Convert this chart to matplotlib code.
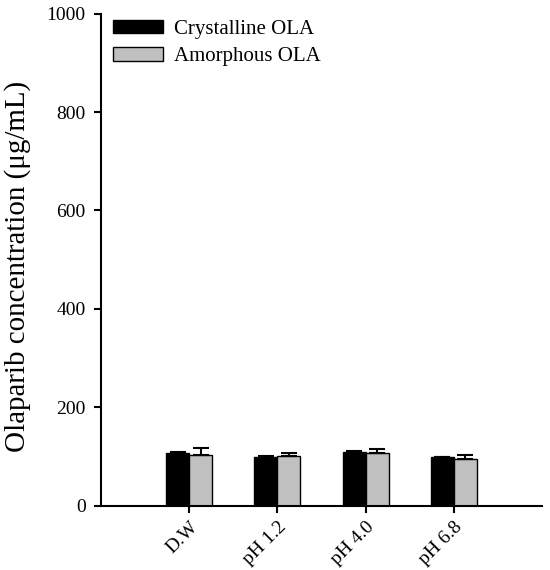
import matplotlib.pyplot as plt
import numpy as np

plt.rcParams['font.family'] = ['Liberation Serif', 'DejaVu Serif']

media = ['D.W', 'pH 1.2', 'pH 4.0', 'pH 6.8']
crystalline = [108, 100, 110, 98]
crystalline_err = [0.5, 0.5, 0.5, 0.5]
amorphous = [104, 101, 107, 95]
amorphous_err = [14, 7, 9, 9]

x = np.arange(len(media))
w = 0.26

fig = plt.figure(figsize=(5.5, 5.7), dpi=100)
ax = fig.add_axes([0.1836, 0.1128, 0.8019, 0.8632])

ax.bar(x - w / 2, crystalline, w, color='black', edgecolor='black', linewidth=1,
       yerr=[np.zeros(4), crystalline_err], capsize=5.5,
       error_kw=dict(elinewidth=1.5, capthick=1.5, ecolor='black'),
       label='Crystalline OLA')
ax.bar(x + w / 2, amorphous, w, color='#c0c0c0', edgecolor='black', linewidth=1,
       yerr=[np.zeros(4), amorphous_err], capsize=5.5,
       error_kw=dict(elinewidth=1.5, capthick=1.5, ecolor='black'),
       label='Amorphous OLA')

ax.set_xlim(-1, 4)
ax.set_ylim(0, 1000)
ax.set_yticks([0, 200, 400, 600, 800, 1000])
ax.set_xticks(x)
ax.set_xticklabels(media, rotation=45, ha='right', rotation_mode='anchor')

ax.spines['top'].set_visible(False)
ax.spines['right'].set_visible(False)
ax.spines['left'].set_linewidth(1.5)
ax.spines['bottom'].set_linewidth(1.5)
ax.tick_params(axis='both', direction='out', length=5, width=1.5, labelsize=14)
ax.tick_params(axis='y', pad=6)
ax.tick_params(axis='x', pad=4)

ax.set_ylabel('Olaparib concentration (\u03bcg/mL)', fontsize=20.9)
ax.yaxis.set_label_coords(-0.158, 0.486)

ax.legend(loc='upper left', frameon=False, fontsize=15, handlelength=2.4,
          handleheight=0.6, handletextpad=0.5, borderaxespad=0, borderpad=0.3,
          labelspacing=0.4, bbox_to_anchor=(0.014, 1.0))

plt.savefig('out.png', dpi=100)
